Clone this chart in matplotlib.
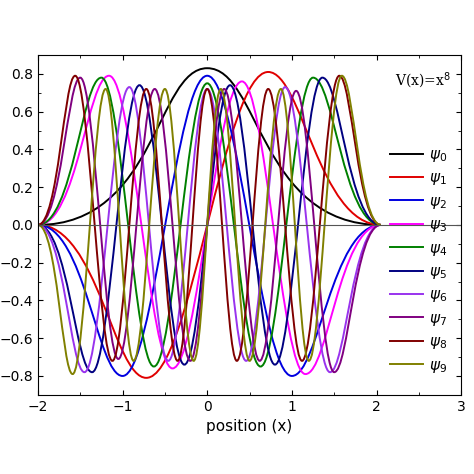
import numpy as np
import matplotlib
matplotlib.use("Agg")
import matplotlib.pyplot as plt
from matplotlib.path import Path
from matplotlib.patches import PathPatch

labels = [r"$\psi_{%d}$" % i for i in range(10)]
colors = ["#000000", "#e00000", "#0000e0", "#ff00ff", "#008000",
          "#000080", "#9933ee", "#800080", "#800000", "#808000"]
wall_left, wall_right = -2.0, 2.05
# extrema (x>=0); left side follows parity
ext_x = [[0.0], [0.72], [0.0, 1.0], [0.41, 1.16], [0.0, 0.63, 1.25],
         [0.27, 0.80, 1.36], [0.0, 0.46, 0.92, 1.45], [0.20, 0.62, 1.05, 1.50],
         [0.0, 0.35, 0.72, 1.12, 1.56], [0.16, 0.50, 0.87, 1.20, 1.59]]
ext_y = [[0.83], [0.81], [0.79, -0.80], [0.76, -0.79], [0.75, -0.75, 0.78],
         [0.74, -0.74, 0.78], [0.72, -0.72, 0.73, -0.78], [0.72, -0.72, 0.71, -0.78],
         [0.72, -0.72, 0.72, -0.72, 0.79], [0.72, -0.72, 0.72, -0.72, 0.79]]

def build(n):
    xs, ys = ext_x[n], ext_y[n]
    pts = []
    for x, y in zip(xs, ys):
        pts.append((x, y))
        if x > 0:
            pts.append((-x, y * (-1) ** n))
    pts.sort()
    tf = 0.7 if n == 0 else 0.55
    verts = [(wall_left, 0.0)]
    codes = [Path.MOVETO]
    x1, y1 = pts[0]
    d = x1 - wall_left
    verts += [(wall_left + tf * d, 0), (x1 - 0.3 * d, y1), (x1, y1)]
    codes += [Path.CURVE4] * 3
    for (xa, ya), (xb, yb) in zip(pts[:-1], pts[1:]):
        xm = xa + (xb - xa) * (abs(ya) / (abs(ya) + abs(yb)))
        for (p, q, a) in [((xa, ya), (xm, 0.0), 1), ((xm, 0.0), (xb, yb), 0)]:
            dd = q[0] - p[0]
            if a == 1:
                A = p[1]
                c1 = (p[0] + 0.36 * dd, A)
                c2 = (q[0] - dd / 3, A * np.pi / 6)
            else:
                A = q[1]
                c1 = (p[0] + dd / 3, A * np.pi / 6)
                c2 = (q[0] - 0.36 * dd, A)
            verts += [c1, c2, q]
            codes += [Path.CURVE4] * 3
    x1, y1 = pts[-1]
    d = wall_right - x1
    verts += [(x1 + 0.3 * d, y1), (wall_right - tf * d, 0), (wall_right, 0.0)]
    codes += [Path.CURVE4] * 3
    return Path(verts, codes)

fig = plt.figure(figsize=(4.74, 4.74), dpi=100)
ax = fig.add_axes([0.08, 0.167, 0.893, 0.717])
ax.axhline(0, color="#555555", lw=0.8)
for n in range(10):
    ax.add_patch(PathPatch(build(n), fill=False, edgecolor=colors[n], lw=1.4))
    ax.plot([], [], color=colors[n], lw=1.4, label=labels[n])
ax.set_xlim(-2, 3)
ax.set_ylim(-0.89, 0.89)
ax.set_xticks([-2, -1, 0, 1, 2, 3])
ax.set_xticks(np.arange(-1.5, 3, 1), minor=True)
ax.set_yticks(np.round(np.arange(-0.8, 0.81, 0.2), 1))
ax.set_yticks(np.round(np.arange(-0.9, 0.91, 0.1), 1), minor=True)
ax.tick_params(direction="in", top=True, right=True, which="both", labelsize=10)
ax.set_xlabel("position (x)", fontsize=11)
ax.text(2.55, 0.74, r"V(x)=x$^8$", family="DejaVu Serif", fontsize=10, ha="center")
leg = ax.legend(loc="upper right", bbox_to_anchor=(1.0, 0.77), frameon=False,
                handlelength=2.2, labelspacing=0.42, fontsize=11, handletextpad=0.4)
fig.savefig("out.png", dpi=100)
